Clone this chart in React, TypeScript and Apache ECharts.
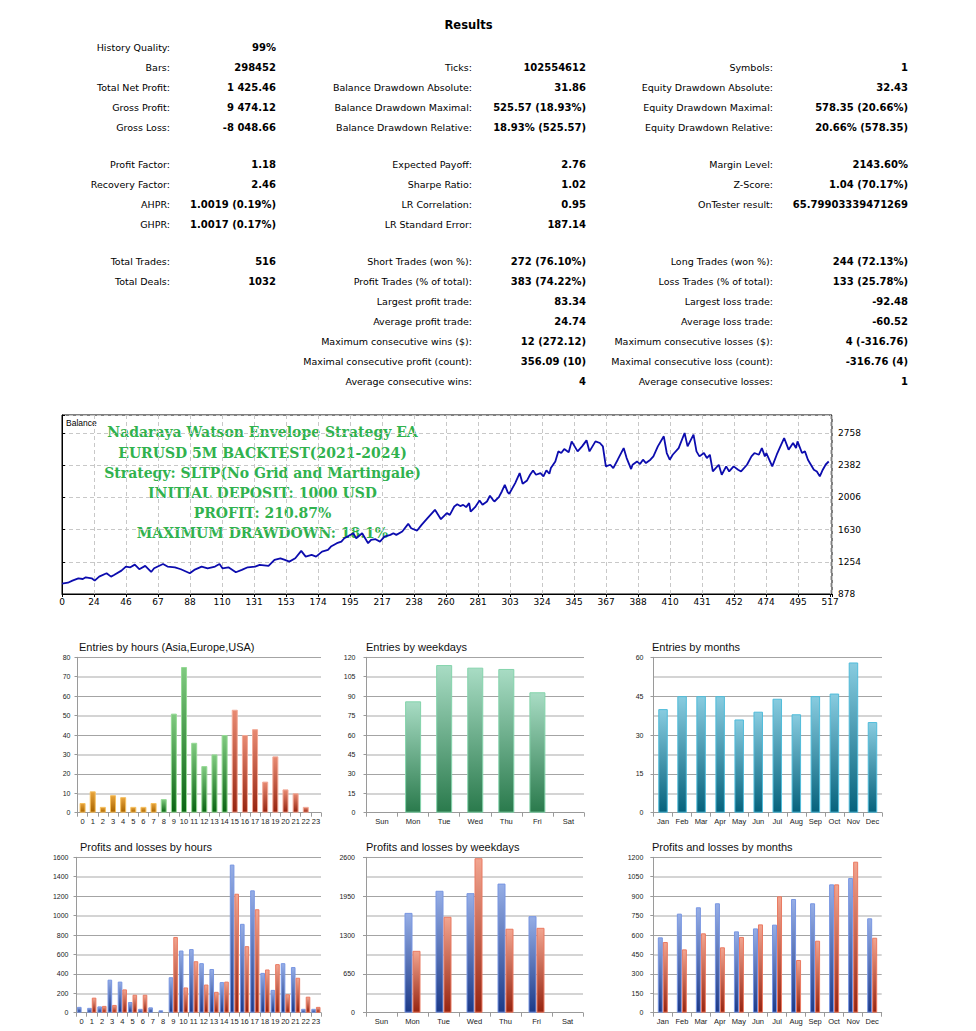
import React, { useEffect, useRef } from 'react';
import * as echarts from 'echarts';

// ---------------- Results table ----------------
const rowY = [47, 67, 87, 107, 127, 164, 184, 204, 224, 261, 281, 301, 321, 341, 361, 381];

const col1Rows = [0, 1, 2, 3, 4, 5, 6, 7, 8, 9, 10];
const col1Labels = ['History Quality:', 'Bars:', 'Total Net Profit:', 'Gross Profit:', 'Gross Loss:', 'Profit Factor:', 'Recovery Factor:', 'AHPR:', 'GHPR:', 'Total Trades:', 'Total Deals:'];
const col1Values = ['99%', '298452', '1 425.46', '9 474.12', '-8 048.66', '1.18', '2.46', '1.0019 (0.19%)', '1.0017 (0.17%)', '516', '1032'];

const col2Rows = [1, 2, 3, 4, 5, 6, 7, 8, 9, 10, 11, 12, 13, 14, 15];
const col2Labels = ['Ticks:', 'Balance Drawdown Absolute:', 'Balance Drawdown Maximal:', 'Balance Drawdown Relative:', 'Expected Payoff:', 'Sharpe Ratio:', 'LR Correlation:', 'LR Standard Error:', 'Short Trades (won %):', 'Profit Trades (% of total):', 'Largest profit trade:', 'Average profit trade:', 'Maximum consecutive wins ($):', 'Maximal consecutive profit (count):', 'Average consecutive wins:'];
const col2Values = ['102554612', '31.86', '525.57 (18.93%)', '18.93% (525.57)', '2.76', '1.02', '0.95', '187.14', '272 (76.10%)', '383 (74.22%)', '83.34', '24.74', '12 (272.12)', '356.09 (10)', '4'];

const col3Rows = [1, 2, 3, 4, 5, 6, 7, 9, 10, 11, 12, 13, 14, 15];
const col3Labels = ['Symbols:', 'Equity Drawdown Absolute:', 'Equity Drawdown Maximal:', 'Equity Drawdown Relative:', 'Margin Level:', 'Z-Score:', 'OnTester result:', 'Long Trades (won %):', 'Loss Trades (% of total):', 'Largest loss trade:', 'Average loss trade:', 'Maximum consecutive losses ($):', 'Maximal consecutive loss (count):', 'Average consecutive losses:'];
const col3Values = ['1', '32.43', '578.35 (20.66%)', '20.66% (578.35)', '2143.60%', '1.04 (70.17%)', '65.79903339471269', '244 (72.13%)', '133 (25.78%)', '-92.48', '-60.52', '4 (-316.76)', '-316.76 (4)', '1'];

// ---------------- Balance curve ----------------
const balanceTrades = [0, 4, 7, 11, 14, 16, 20, 22, 25, 30, 33, 35, 40, 43, 46, 49, 52, 56, 60, 62, 68, 71, 76, 80, 86, 89, 94, 98, 103, 106, 108, 112, 117, 121, 125, 130, 133, 139, 143, 147, 150, 153, 157, 161, 164, 168, 171, 175, 179, 181, 185, 188, 190, 193, 196, 198, 202, 206, 208, 211, 214, 217, 221, 223, 225, 229, 233, 235, 239, 242, 246, 251, 255, 259, 261, 264, 266, 268,
  270, 272, 274, 275, 278, 281, 283, 286, 288, 290, 291, 294, 296, 298, 300, 301, 305, 308, 310, 313, 315, 317, 319, 322, 324, 326, 328, 329, 332, 334, 336, 338, 341, 343, 345, 347, 350, 353, 355, 359, 362, 364, 366, 369, 371, 374, 378, 380, 383, 384, 387, 389, 391, 393, 396, 398, 401, 405, 407, 409, 411, 415, 419, 421, 425, 427, 429, 432, 434, 436, 438, 442, 444, 447, 449, 452, 455, 457, 461, 464, 466, 469, 471, 473, 474, 478, 481, 484, 486, 489, 492, 494, 495, 498, 500, 502, 506, 508, 510, 512, 514, 516];
const balanceValues = [1000, 1010, 1034, 1061, 1053, 1073, 1061, 1034, 1081, 1120, 1081, 1100, 1151, 1198, 1190, 1221, 1167, 1206, 1135, 1178, 1229, 1198, 1190, 1167, 1120, 1159, 1198, 1178, 1198, 1229, 1178, 1190, 1132, 1159, 1190, 1198, 1217, 1206, 1276, 1295, 1276, 1256, 1295, 1381, 1315, 1334, 1315, 1373, 1393, 1432, 1471, 1490, 1529, 1557, 1588, 1529, 1588, 1471, 1510, 1518, 1490, 1549, 1568, 1588, 1568, 1607, 1697, 1646, 1619, 1685, 1763, 1861, 1752, 1822, 1802, 1900, 1925, 1905,
  1919, 1892, 1939, 1841, 1892, 1970, 1919, 1958, 2025, 1978, 1958, 2009, 2075, 2153, 2064, 2048, 2173, 2290, 2165, 2204, 2270, 2321, 2270, 2290, 2251, 2321, 2282, 2348, 2426, 2543, 2524, 2571, 2532, 2660, 2602, 2543, 2602, 2672, 2543, 2660, 2641, 2602, 2368, 2387, 2348, 2446, 2582, 2465, 2337, 2387, 2426, 2395, 2446, 2407, 2446, 2485, 2602, 2719, 2524, 2446, 2504, 2582, 2758, 2602, 2738, 2543, 2485, 2524, 2465, 2504, 2309, 2387, 2270, 2368, 2309, 2368, 2329, 2309, 2387, 2485, 2524, 2504, 2582, 2485, 2524, 2368, 2504, 2621, 2699, 2563, 2641, 2582, 2660, 2524, 2543, 2446, 2329, 2309, 2251, 2329, 2390, 2425];
const balanceXLabels = ['0', '24', '46', '67', '88', '110', '131', '153', '174', '195', '217', '238', '260', '281', '303', '324', '345', '367', '388', '410', '431', '452', '474', '495', '517'];
const balanceXLast = 517;
const balanceYMin = 878;
const balanceYStep = 376;
const balanceYMax = 2968;

const overlayLines = ['Nadaraya Watson Envelope Strategy EA', 'EURUSD 5M BACKTEST(2021-2024)', 'Strategy: SLTP(No Grid and Martingale)', 'INITIAL DEPOSIT: 1000 USD', 'PROFIT: 210.87%', 'MAXIMUM DRAWDOWN: 18.1%'];

// ---------------- Distribution charts ----------------
const hourCats = ['0', '1', '2', '3', '4', '5', '6', '7', '8', '9', '10', '11', '12', '13', '14', '15', '16', '17', '18', '19', '20', '21', '22', '23'];
const hourSession = ['asia', 'asia', 'asia', 'asia', 'asia', 'asia', 'asia', 'asia', 'europe', 'europe', 'europe', 'europe', 'europe', 'europe', 'europe', 'usa', 'usa', 'usa', 'usa', 'usa', 'usa', 'usa', 'usa', 'usa'];
const entriesByHour = [5, 11, 3, 9, 8, 3, 3, 5, 7, 51, 75, 36, 24, 30, 40, 53, 40, 43, 16, 29, 12, 10, 3, 0];

const weekdayCats = ['Sun', 'Mon', 'Tue', 'Wed', 'Thu', 'Fri', 'Sat'];
const entriesByWeekday = [0, 86, 114, 112, 111, 93, 0];

const monthCats = ['Jan', 'Feb', 'Mar', 'Apr', 'May', 'Jun', 'Jul', 'Aug', 'Sep', 'Oct', 'Nov', 'Dec'];
const entriesByMonth = [40, 45, 45, 45, 36, 39, 44, 38, 45, 46, 58, 35];

const profitByHour = [60, 50, 65, 340, 320, 110, 40, 55, 25, 365, 640, 655, 510, 450, 315, 1525, 915, 1260, 410, 235, 510, 470, 40, 40];
const lossByHour = [0, 155, 70, 80, 240, 185, 185, 0, 0, 780, 260, 530, 290, 215, 320, 1225, 685, 1065, 445, 500, 190, 360, 165, 60];

const profitByWeekday = [0, 1670, 2040, 2000, 2160, 1615, 0];
const lossByWeekday = [0, 1035, 1605, 2585, 1405, 1420, 0];

const profitByMonth = [582, 765, 814, 845, 628, 651, 680, 878, 845, 991, 1040, 729];
const lossByMonth = [546, 489, 613, 505, 585, 682, 899, 407, 556, 991, 1166, 579];

const grad = (top: string, bottom: string) =>
  new echarts.graphic.LinearGradient(0, 0, 0, 1, [
    { offset: 0, color: top },
    { offset: 1, color: bottom },
  ]);

const palette: Record<string, { top: string; bottom: string; border: string }> = {
  asia: { top: '#e8a43c', bottom: '#a86400', border: '#f5c060' },
  europe: { top: '#80ca80', bottom: '#0a6413', border: '#96da96' },
  usa: { top: '#e88a72', bottom: '#962410', border: '#f2aa98' },
  weekday: { top: '#a8dcc4', bottom: '#2a7a4c', border: '#84d4ac' },
  month: { top: '#88cce0', bottom: '#06627c', border: '#50bcda' },
  profit: { top: '#96aee6', bottom: '#1c3a88', border: '#7896e2' },
  loss: { top: '#f2a590', bottom: '#962410', border: '#ea7a62' },
};
const barItem = (v: number, key: string) => ({
  value: v,
  itemStyle: {
    color: grad(palette[key].top, palette[key].bottom),
    borderColor: palette[key].border,
    borderWidth: v > 0 ? 1 : 0,
    opacity: v > 0 ? 1 : 0,
  },
});

const FONT_UI = 'Tahoma, "DejaVu Sans", sans-serif';
const FONT_SANS = '"Liberation Sans", Arial, sans-serif';

function buildOption() {
  const graphic: any[] = [];
  const txt = (text: string, x: number, y: number, align: string, size: number, weight: string, color: string, family: string) => ({
    type: 'text',
    x,
    y,
    silent: true,
    style: {
      text,
      fill: color,
      fontSize: size,
      fontWeight: weight,
      fontFamily: family,
      align,
      textAlign: align,
      verticalAlign: 'middle',
      textVerticalAlign: 'middle',
    },
  });

  // Title
  graphic.push(txt('Results', 468.5, 25, 'center', 11.5, 'bold', '#000', FONT_UI));
  const cols = [
    { rows: col1Rows, labels: col1Labels, values: col1Values, lx: 170, vx: 276 },
    { rows: col2Rows, labels: col2Labels, values: col2Values, lx: 472, vx: 586 },
    { rows: col3Rows, labels: col3Labels, values: col3Values, lx: 773, vx: 908 },
  ];
  cols.forEach((c) => {
    c.rows.forEach((r, i) => {
      graphic.push(txt(c.labels[i], c.lx, rowY[r], 'right', 9.5, 'normal', '#000', FONT_UI));
      graphic.push(txt(c.values[i], c.vx, rowY[r], 'right', 10, 'bold', '#000', FONT_UI));
    });
  });

  // Balance chart overlay texts
  graphic.push(txt('Balance', 66, 423, 'left', 8.5, 'normal', '#000', FONT_SANS));
  const overlayY = [432, 452.5, 472.5, 492.5, 513, 533];
  overlayLines.forEach((l, i) => {
    graphic.push(txt(l, 262.5, overlayY[i], 'center', 14, 'bold', '#31b24e', '"DejaVu Serif", serif'));
  });

  const grids: any[] = [];
  const xAxes: any[] = [];
  const yAxes: any[] = [];
  const series: any[] = [];

  // ---- Balance grid ----
  const xStep = balanceXLast / (balanceXLabels.length - 1);
  grids.push({ left: 62, top: 415, width: 770, height: 179, show: true, borderColor: '#000', borderWidth: 1, backgroundColor: 'transparent' });
  xAxes.push({
    gridIndex: 0,
    type: 'value',
    min: 0,
    max: 518.2,
    interval: xStep,
    axisLine: { show: true, lineStyle: { color: '#000', width: 1 } },
    axisTick: { show: true, length: 3, lineStyle: { color: '#000' } },
    splitLine: { show: true, lineStyle: { color: '#c8c8c8', type: [4, 3], width: 1 } },
    axisLabel: {
      margin: 3,
      fontSize: 9,
      color: '#000',
      fontFamily: FONT_UI,
      showMinLabel: true,
      showMaxLabel: true,
      formatter: (v: number) => {
        const k = Math.round(v / xStep);
        return Math.abs(v - k * xStep) < 0.5 && k < balanceXLabels.length ? balanceXLabels[k] : '';
      },
    },
  });
  yAxes.push({
    gridIndex: 0,
    type: 'value',
    position: 'right',
    min: balanceYMin,
    max: balanceYMax,
    interval: balanceYStep,
    axisLine: { show: true, lineStyle: { color: '#000', width: 1 } },
    axisTick: { show: true, length: 3, lineStyle: { color: '#000' } },
    splitLine: { show: true, lineStyle: { color: '#c8c8c8', type: [4, 3], width: 1 } },
    axisLabel: {
      margin: 6,
      fontSize: 9,
      color: '#000',
      fontFamily: FONT_UI,
      formatter: (v: number) => {
        const k = (v - balanceYMin) / balanceYStep;
        return Math.abs(k - Math.round(k)) < 0.01 ? String(Math.round(v)) : '';
      },
    },
  });
  series.push({
    type: 'line',
    xAxisIndex: 0,
    yAxisIndex: 0,
    data: balanceTrades.map((t, i) => [t, balanceValues[i]]),
    showSymbol: false,
    symbol: 'none',
    lineStyle: { color: '#0c0cae', width: 1.8 },
    z: 5,
  });

  // ---- Bar panels ----
  type SeriesDef = { data: any[]; barWidth: number };
  type Panel = {
    left: number; top: number; width: number; height: number;
    cats: string[]; max: number; step: number; labelStep: number; labelMargin: number;
    title: string; titleX: number; titleY: number; bars: SeriesDef[];
  };
  const panels: Panel[] = [
    {
      left: 77.5, top: 657.3, width: 243.5, height: 155.4, cats: hourCats, max: 80, step: 10, labelStep: 10, labelMargin: 7,
      title: 'Entries by hours (Asia,Europe,USA)', titleX: 79, titleY: 646.5,
      bars: [{ barWidth: 6, data: entriesByHour.map((v, i) => barItem(v, hourSession[i])) }],
    },
    {
      left: 366.5, top: 657.3, width: 217.5, height: 155.4, cats: weekdayCats, max: 120, step: 15, labelStep: 15, labelMargin: 11,
      title: 'Entries by weekdays', titleX: 366, titleY: 646.5,
      bars: [{ barWidth: 16, data: entriesByWeekday.map((v) => barItem(v, 'weekday')) }],
    },
    {
      left: 653.5, top: 657.3, width: 228.5, height: 155.4, cats: monthCats, max: 60, step: 7.5, labelStep: 15, labelMargin: 10,
      title: 'Entries by months', titleX: 652, titleY: 646.5,
      bars: [{ barWidth: 9.5, data: entriesByMonth.map((v) => barItem(v, 'month')) }],
    },
    {
      left: 76.5, top: 857.3, width: 244.5, height: 155.4, cats: hourCats, max: 1600, step: 200, labelStep: 200, labelMargin: 8,
      title: 'Profits and losses by hours', titleX: 80, titleY: 846.5,
      bars: [
        { barWidth: 4.6, data: profitByHour.map((v) => barItem(v, 'profit')) },
        { barWidth: 4.6, data: lossByHour.map((v) => barItem(v, 'loss')) },
      ],
    },
    {
      left: 366, top: 857.3, width: 217, height: 155.4, cats: weekdayCats, max: 2600, step: 325, labelStep: 650, labelMargin: 11,
      title: 'Profits and losses by weekdays', titleX: 366, titleY: 846.5,
      bars: [
        { barWidth: 8, data: profitByWeekday.map((v) => barItem(v, 'profit')) },
        { barWidth: 8, data: lossByWeekday.map((v) => barItem(v, 'loss')) },
      ],
    },
    {
      left: 653.3, top: 857.3, width: 228.4, height: 155.4, cats: monthCats, max: 1200, step: 150, labelStep: 150, labelMargin: 10,
      title: 'Profits and losses by months', titleX: 652, titleY: 846.5,
      bars: [
        { barWidth: 5, data: profitByMonth.map((v) => barItem(v, 'profit')) },
        { barWidth: 5, data: lossByMonth.map((v) => barItem(v, 'loss')) },
      ],
    },
  ];

  panels.forEach((p, pi) => {
    const gi = pi + 1;
    grids.push({ left: p.left, top: p.top, width: p.width, height: p.height });
    xAxes.push({
      gridIndex: gi,
      type: 'category',
      data: p.cats,
      boundaryGap: true,
      axisLine: { show: true, lineStyle: { color: '#9a9a9a', width: 1 } },
      axisTick: { show: true, length: 4, lineStyle: { color: '#9a9a9a' } },
      axisLabel: { interval: 0, fontSize: 7.5, color: '#222', margin: 5, fontFamily: FONT_SANS },
      splitLine: { show: false },
    });
    const base = yAxes.length;
    // label axis
    yAxes.push({
      gridIndex: gi,
      type: 'value',
      min: 0,
      max: p.max,
      interval: p.labelStep,
      axisLine: { show: true, lineStyle: { color: '#9a9a9a', width: 1 } },
      axisTick: { show: true, length: 3, lineStyle: { color: '#9a9a9a' } },
      axisLabel: { fontSize: 7, color: '#222', margin: p.labelMargin, fontFamily: FONT_SANS, formatter: (v: number) => String(v) },
      splitLine: { show: false },
    });
    // light minor lines
    yAxes.push({
      gridIndex: gi,
      type: 'value',
      min: 0,
      max: p.max,
      interval: p.step,
      axisLine: { show: false },
      axisTick: { show: false },
      axisLabel: { show: false },
      splitLine: { show: true, lineStyle: { color: ['rgba(0,0,0,0)', '#d4d4d4'], width: 2 } },
    });
    // dark major lines
    yAxes.push({
      gridIndex: gi,
      type: 'value',
      min: 0,
      max: p.max,
      interval: p.step * 2,
      axisLine: { show: false },
      axisTick: { show: false },
      axisLabel: { show: false },
      splitLine: { show: true, lineStyle: { color: '#a4a4a4', width: 1 } },
    });
    p.bars.forEach((b) => {
      series.push({
        type: 'bar',
        xAxisIndex: gi,
        yAxisIndex: base,
        data: b.data,
        barWidth: b.barWidth,
        barGap: '0%',
        z: 3,
      });
    });
    graphic.push(txt(p.title, p.titleX, p.titleY, 'left', 11, 'normal', '#111', FONT_SANS));
  });

  return {
    animation: false,
    backgroundColor: '#fff',
    textStyle: { fontFamily: FONT_SANS },
    grid: grids,
    xAxis: xAxes,
    yAxis: yAxes,
    series,
    graphic,
  };
}

export default function App() {
  const ref = useRef<HTMLDivElement>(null);
  useEffect(() => {
    if (!ref.current) return;
    const chart = echarts.init(ref.current, null, { renderer: 'svg', width: 976, height: 1031 });
    chart.setOption(buildOption() as any);
    return () => chart.dispose();
  }, []);
  return (
    <div
      ref={ref}
      style={{ position: 'absolute', left: 0, top: 0, width: 976, height: 1031, background: '#fff' }}
    />
  );
}
